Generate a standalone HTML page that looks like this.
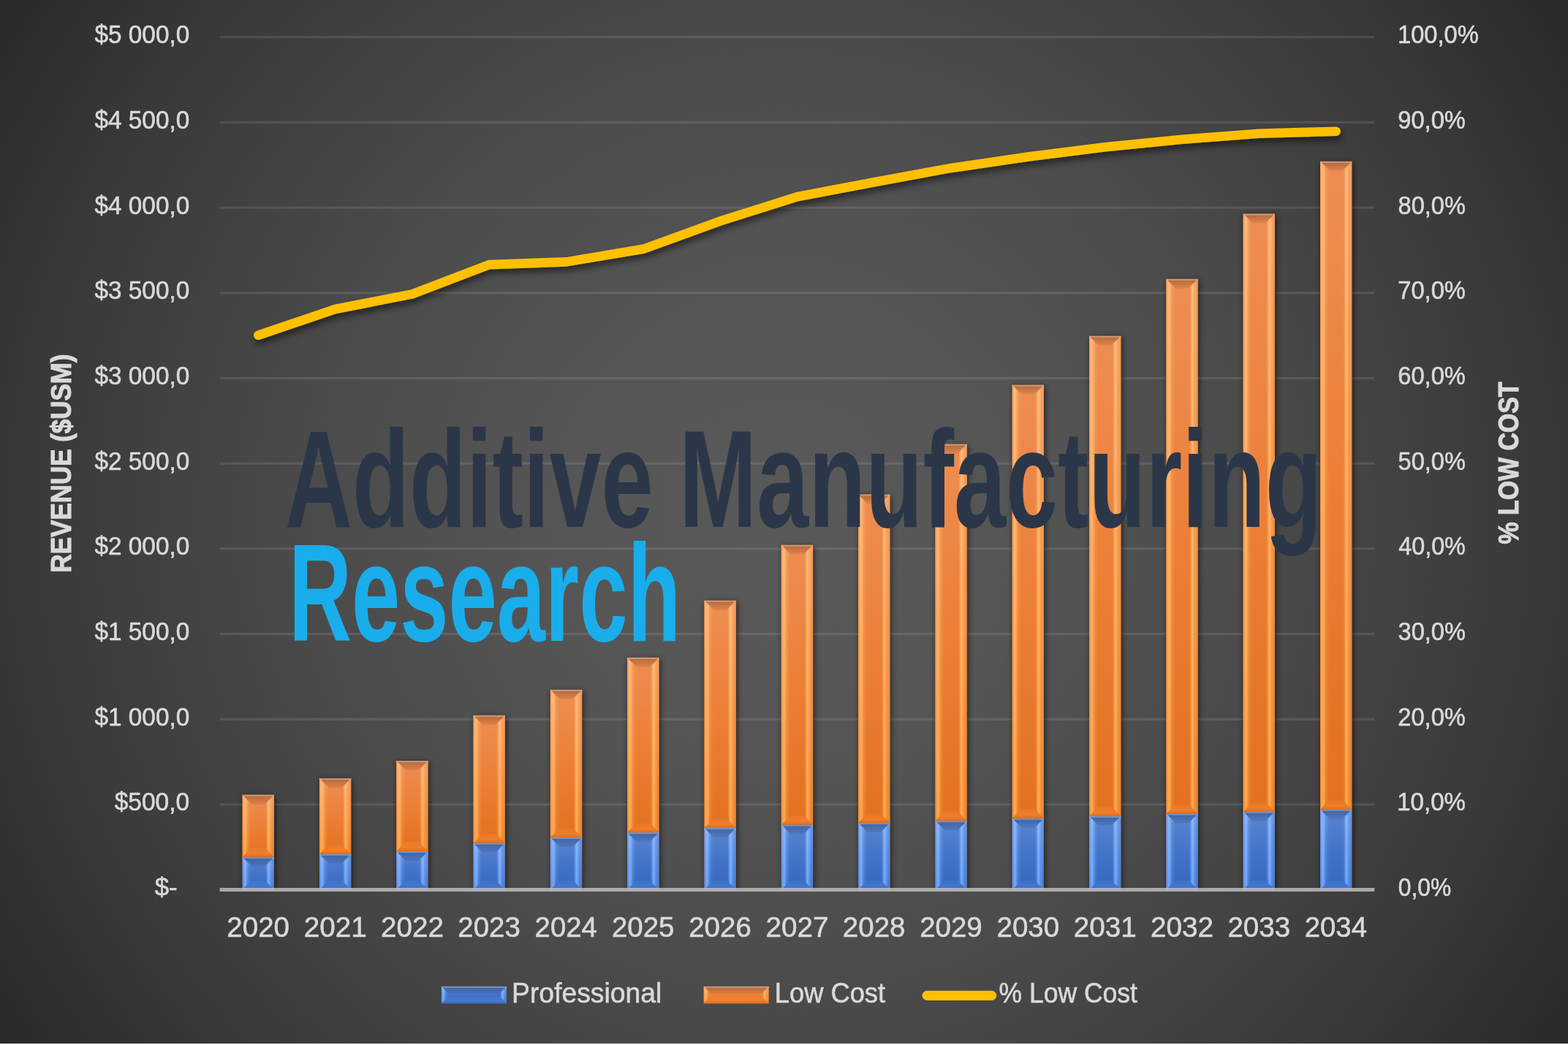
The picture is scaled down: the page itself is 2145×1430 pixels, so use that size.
<!DOCTYPE html>
<html><head><meta charset="utf-8"><title>Chart</title>
<style>html,body{margin:0;padding:0;background:#fff;}body{width:2145px;height:1430px;overflow:hidden;font-family:"Liberation Sans",sans-serif;}svg{display:block;}</style>
</head><body>
<svg width="2145" height="1430" viewBox="0 0 2145 1430" font-family="'Liberation Sans', sans-serif">
<defs>
<radialGradient id="bg" cx="1072.5" cy="714" r="1288" gradientUnits="userSpaceOnUse">
<stop offset="0.00" stop-color="#595959"/><stop offset="0.05" stop-color="#595959"/><stop offset="0.10" stop-color="#585858"/><stop offset="0.15" stop-color="#575757"/><stop offset="0.20" stop-color="#565656"/><stop offset="0.25" stop-color="#555555"/><stop offset="0.30" stop-color="#535353"/><stop offset="0.35" stop-color="#515151"/><stop offset="0.40" stop-color="#4f4f4f"/><stop offset="0.45" stop-color="#4d4d4d"/><stop offset="0.50" stop-color="#4b4b4b"/><stop offset="0.55" stop-color="#484848"/><stop offset="0.60" stop-color="#454545"/><stop offset="0.65" stop-color="#424242"/><stop offset="0.70" stop-color="#3f3f3f"/><stop offset="0.75" stop-color="#3c3c3c"/><stop offset="0.80" stop-color="#393939"/><stop offset="0.85" stop-color="#353535"/><stop offset="0.90" stop-color="#313131"/><stop offset="0.95" stop-color="#2d2d2d"/><stop offset="1.00" stop-color="#292929"/></radialGradient>
<linearGradient id="gO" x1="0" y1="0" x2="0" y2="1"><stop offset="0" stop-color="#ee8d53"/><stop offset="0.5" stop-color="#ec7f36"/><stop offset="1" stop-color="#e2711f"/></linearGradient>
<linearGradient id="gB" x1="0" y1="0" x2="0" y2="1"><stop offset="0" stop-color="#5a85d2"/><stop offset="0.5" stop-color="#4474c8"/><stop offset="1" stop-color="#3567bd"/></linearGradient>
<linearGradient id="bvLO" x1="0" y1="0" x2="1" y2="0"><stop offset="0" stop-color="#ff6a3a" stop-opacity="0.5"/><stop offset="0.3" stop-color="#ff6a3a" stop-opacity="1"/><stop offset="0.58" stop-color="#ff6a3a" stop-opacity="0.3"/><stop offset="0.85" stop-color="#ff6a3a" stop-opacity="0.04"/><stop offset="1" stop-color="#ff6a3a" stop-opacity="0"/></linearGradient>
<linearGradient id="bvRO" x1="0" y1="0" x2="1" y2="0"><stop offset="0" stop-color="#ff6a3a" stop-opacity="0"/><stop offset="0.15" stop-color="#ff6a3a" stop-opacity="0.05"/><stop offset="0.42" stop-color="#ff6a3a" stop-opacity="1"/><stop offset="0.72" stop-color="#ff6a3a" stop-opacity="0.45"/><stop offset="1" stop-color="#ff6a3a" stop-opacity="0.22"/></linearGradient>
<linearGradient id="bvBO" x1="0" y1="0" x2="0" y2="1"><stop offset="0" stop-color="#ff8f38" stop-opacity="0.15"/><stop offset="0.6" stop-color="#ff8a30" stop-opacity="0.5"/><stop offset="1" stop-color="#e26a18" stop-opacity="0.5"/></linearGradient>
<linearGradient id="bvLB" x1="0" y1="0" x2="1" y2="0"><stop offset="0" stop-color="#4e70ff" stop-opacity="0.5"/><stop offset="0.3" stop-color="#4e70ff" stop-opacity="1"/><stop offset="0.58" stop-color="#4e70ff" stop-opacity="0.3"/><stop offset="0.85" stop-color="#4e70ff" stop-opacity="0.04"/><stop offset="1" stop-color="#4e70ff" stop-opacity="0"/></linearGradient>
<linearGradient id="bvRB" x1="0" y1="0" x2="1" y2="0"><stop offset="0" stop-color="#4e70ff" stop-opacity="0"/><stop offset="0.15" stop-color="#4e70ff" stop-opacity="0.05"/><stop offset="0.42" stop-color="#4e70ff" stop-opacity="1"/><stop offset="0.72" stop-color="#4e70ff" stop-opacity="0.45"/><stop offset="1" stop-color="#4e70ff" stop-opacity="0.22"/></linearGradient>
<linearGradient id="bvBB" x1="0" y1="0" x2="0" y2="1"><stop offset="0" stop-color="#4d86dc" stop-opacity="0.15"/><stop offset="0.6" stop-color="#4a84dc" stop-opacity="0.55"/><stop offset="1" stop-color="#3b6fc8" stop-opacity="0.5"/></linearGradient>
<linearGradient id="bvT" x1="0" y1="0" x2="0" y2="1"><stop offset="0" stop-color="#000" stop-opacity="0.26"/><stop offset="1" stop-color="#000" stop-opacity="0.06"/></linearGradient>
<filter id="sh" filterUnits="userSpaceOnUse" x="0" y="0" width="2145" height="1430"><feDropShadow dx="1.5" dy="2" stdDeviation="4" flood-color="#000" flood-opacity="0.62"/></filter>
<filter id="shl" filterUnits="userSpaceOnUse" x="0" y="0" width="2145" height="1430"><feDropShadow dx="2" dy="6" stdDeviation="5" flood-color="#000" flood-opacity="0.5"/></filter>
</defs>
<rect x="0" y="0" width="2145" height="1430" fill="#fff"/>
<rect x="0" y="0" width="2145" height="1428" fill="url(#bg)"/>
<rect x="300.6" y="49.20" width="1579.7" height="3.2" fill="#f2f2f2" fill-opacity="0.11"/>
<rect x="300.6" y="165.87" width="1579.7" height="3.2" fill="#f2f2f2" fill-opacity="0.11"/>
<rect x="300.6" y="282.54" width="1579.7" height="3.2" fill="#f2f2f2" fill-opacity="0.11"/>
<rect x="300.6" y="399.21" width="1579.7" height="3.2" fill="#f2f2f2" fill-opacity="0.11"/>
<rect x="300.6" y="515.88" width="1579.7" height="3.2" fill="#f2f2f2" fill-opacity="0.11"/>
<rect x="300.6" y="632.55" width="1579.7" height="3.2" fill="#f2f2f2" fill-opacity="0.11"/>
<rect x="300.6" y="749.22" width="1579.7" height="3.2" fill="#f2f2f2" fill-opacity="0.11"/>
<rect x="300.6" y="865.89" width="1579.7" height="3.2" fill="#f2f2f2" fill-opacity="0.11"/>
<rect x="300.6" y="982.56" width="1579.7" height="3.2" fill="#f2f2f2" fill-opacity="0.11"/>
<rect x="300.6" y="1099.23" width="1579.7" height="3.2" fill="#f2f2f2" fill-opacity="0.11"/>
<clipPath id="cpa"><rect x="0" y="0" width="2145" height="1217.5"/></clipPath>
<g clip-path="url(#cpa)"><g filter="url(#sh)">
<rect x="331.66" y="1087.70" width="43.20" height="149.80" fill="#c66a2a"/>
<rect x="436.97" y="1065.00" width="43.20" height="172.50" fill="#c66a2a"/>
<rect x="542.28" y="1041.10" width="43.20" height="196.40" fill="#c66a2a"/>
<rect x="647.60" y="978.90" width="43.20" height="258.60" fill="#c66a2a"/>
<rect x="752.91" y="943.90" width="43.20" height="293.60" fill="#c66a2a"/>
<rect x="858.22" y="899.90" width="43.20" height="337.60" fill="#c66a2a"/>
<rect x="963.54" y="821.80" width="43.20" height="415.70" fill="#c66a2a"/>
<rect x="1068.85" y="745.80" width="43.20" height="491.70" fill="#c66a2a"/>
<rect x="1174.16" y="676.60" width="43.20" height="560.90" fill="#c66a2a"/>
<rect x="1279.48" y="607.80" width="43.20" height="629.70" fill="#c66a2a"/>
<rect x="1384.79" y="526.80" width="43.20" height="710.70" fill="#c66a2a"/>
<rect x="1490.10" y="459.80" width="43.20" height="777.70" fill="#c66a2a"/>
<rect x="1595.42" y="381.80" width="43.20" height="855.70" fill="#c66a2a"/>
<rect x="1700.73" y="292.60" width="43.20" height="944.90" fill="#c66a2a"/>
<rect x="1806.04" y="220.90" width="43.20" height="1016.60" fill="#c66a2a"/>
</g></g>
<rect x="331.66" y="1087.70" width="43.20" height="85.10" fill="url(#gO)"/>
<svg x="331.66" y="1087.70" width="43.20" height="85.10" viewBox="0 0 43.20 85.10" preserveAspectRatio="none" overflow="visible">
<polygon points="0,0 13.00,13.00 13.00,72.10 0,85.10" fill="url(#bvLO)" style="mix-blend-mode:screen"/>
<polygon points="43.20,0 30.20,13.00 30.20,72.10 43.20,85.10" fill="url(#bvRO)" style="mix-blend-mode:screen"/>
<polygon points="0,0 43.20,0 30.20,13.00 13.00,13.00" fill="url(#bvT)"/>
<polygon points="0,85.10 43.20,85.10 30.20,72.10 13.00,72.10" fill="url(#bvBO)"/>
<rect x="0" y="0" width="43.20" height="2" fill="#fff" fill-opacity="0.30"/>
</svg>
<rect x="331.66" y="1172.80" width="43.20" height="44.70" fill="url(#gB)"/>
<svg x="331.66" y="1172.80" width="43.20" height="44.70" viewBox="0 0 43.20 44.70" preserveAspectRatio="none" overflow="visible">
<polygon points="0,0 13.00,13.00 13.00,31.70 0,44.70" fill="url(#bvLB)" style="mix-blend-mode:screen"/>
<polygon points="43.20,0 30.20,13.00 30.20,31.70 43.20,44.70" fill="url(#bvRB)" style="mix-blend-mode:screen"/>
<polygon points="0,0 43.20,0 30.20,13.00 13.00,13.00" fill="url(#bvT)"/>
<polygon points="0,44.70 43.20,44.70 30.20,31.70 13.00,31.70" fill="url(#bvBB)"/>
<rect x="0" y="0" width="43.20" height="2" fill="#fff" fill-opacity="0.30"/>
</svg>
<rect x="436.97" y="1065.00" width="43.20" height="103.80" fill="url(#gO)"/>
<svg x="436.97" y="1065.00" width="43.20" height="103.80" viewBox="0 0 43.20 103.80" preserveAspectRatio="none" overflow="visible">
<polygon points="0,0 13.00,13.00 13.00,90.80 0,103.80" fill="url(#bvLO)" style="mix-blend-mode:screen"/>
<polygon points="43.20,0 30.20,13.00 30.20,90.80 43.20,103.80" fill="url(#bvRO)" style="mix-blend-mode:screen"/>
<polygon points="0,0 43.20,0 30.20,13.00 13.00,13.00" fill="url(#bvT)"/>
<polygon points="0,103.80 43.20,103.80 30.20,90.80 13.00,90.80" fill="url(#bvBO)"/>
<rect x="0" y="0" width="43.20" height="2" fill="#fff" fill-opacity="0.30"/>
</svg>
<rect x="436.97" y="1168.80" width="43.20" height="48.70" fill="url(#gB)"/>
<svg x="436.97" y="1168.80" width="43.20" height="48.70" viewBox="0 0 43.20 48.70" preserveAspectRatio="none" overflow="visible">
<polygon points="0,0 13.00,13.00 13.00,35.70 0,48.70" fill="url(#bvLB)" style="mix-blend-mode:screen"/>
<polygon points="43.20,0 30.20,13.00 30.20,35.70 43.20,48.70" fill="url(#bvRB)" style="mix-blend-mode:screen"/>
<polygon points="0,0 43.20,0 30.20,13.00 13.00,13.00" fill="url(#bvT)"/>
<polygon points="0,48.70 43.20,48.70 30.20,35.70 13.00,35.70" fill="url(#bvBB)"/>
<rect x="0" y="0" width="43.20" height="2" fill="#fff" fill-opacity="0.30"/>
</svg>
<rect x="542.28" y="1041.10" width="43.20" height="123.90" fill="url(#gO)"/>
<svg x="542.28" y="1041.10" width="43.20" height="123.90" viewBox="0 0 43.20 123.90" preserveAspectRatio="none" overflow="visible">
<polygon points="0,0 13.00,13.00 13.00,110.90 0,123.90" fill="url(#bvLO)" style="mix-blend-mode:screen"/>
<polygon points="43.20,0 30.20,13.00 30.20,110.90 43.20,123.90" fill="url(#bvRO)" style="mix-blend-mode:screen"/>
<polygon points="0,0 43.20,0 30.20,13.00 13.00,13.00" fill="url(#bvT)"/>
<polygon points="0,123.90 43.20,123.90 30.20,110.90 13.00,110.90" fill="url(#bvBO)"/>
<rect x="0" y="0" width="43.20" height="2" fill="#fff" fill-opacity="0.30"/>
</svg>
<rect x="542.28" y="1165.00" width="43.20" height="52.50" fill="url(#gB)"/>
<svg x="542.28" y="1165.00" width="43.20" height="52.50" viewBox="0 0 43.20 52.50" preserveAspectRatio="none" overflow="visible">
<polygon points="0,0 13.00,13.00 13.00,39.50 0,52.50" fill="url(#bvLB)" style="mix-blend-mode:screen"/>
<polygon points="43.20,0 30.20,13.00 30.20,39.50 43.20,52.50" fill="url(#bvRB)" style="mix-blend-mode:screen"/>
<polygon points="0,0 43.20,0 30.20,13.00 13.00,13.00" fill="url(#bvT)"/>
<polygon points="0,52.50 43.20,52.50 30.20,39.50 13.00,39.50" fill="url(#bvBB)"/>
<rect x="0" y="0" width="43.20" height="2" fill="#fff" fill-opacity="0.30"/>
</svg>
<rect x="647.60" y="978.90" width="43.20" height="174.80" fill="url(#gO)"/>
<svg x="647.60" y="978.90" width="43.20" height="174.80" viewBox="0 0 43.20 174.80" preserveAspectRatio="none" overflow="visible">
<polygon points="0,0 13.00,13.00 13.00,161.80 0,174.80" fill="url(#bvLO)" style="mix-blend-mode:screen"/>
<polygon points="43.20,0 30.20,13.00 30.20,161.80 43.20,174.80" fill="url(#bvRO)" style="mix-blend-mode:screen"/>
<polygon points="0,0 43.20,0 30.20,13.00 13.00,13.00" fill="url(#bvT)"/>
<polygon points="0,174.80 43.20,174.80 30.20,161.80 13.00,161.80" fill="url(#bvBO)"/>
<rect x="0" y="0" width="43.20" height="2" fill="#fff" fill-opacity="0.30"/>
</svg>
<rect x="647.60" y="1153.70" width="43.20" height="63.80" fill="url(#gB)"/>
<svg x="647.60" y="1153.70" width="43.20" height="63.80" viewBox="0 0 43.20 63.80" preserveAspectRatio="none" overflow="visible">
<polygon points="0,0 13.00,13.00 13.00,50.80 0,63.80" fill="url(#bvLB)" style="mix-blend-mode:screen"/>
<polygon points="43.20,0 30.20,13.00 30.20,50.80 43.20,63.80" fill="url(#bvRB)" style="mix-blend-mode:screen"/>
<polygon points="0,0 43.20,0 30.20,13.00 13.00,13.00" fill="url(#bvT)"/>
<polygon points="0,63.80 43.20,63.80 30.20,50.80 13.00,50.80" fill="url(#bvBB)"/>
<rect x="0" y="0" width="43.20" height="2" fill="#fff" fill-opacity="0.30"/>
</svg>
<rect x="752.91" y="943.90" width="43.20" height="202.00" fill="url(#gO)"/>
<svg x="752.91" y="943.90" width="43.20" height="202.00" viewBox="0 0 43.20 202.00" preserveAspectRatio="none" overflow="visible">
<polygon points="0,0 13.00,13.00 13.00,189.00 0,202.00" fill="url(#bvLO)" style="mix-blend-mode:screen"/>
<polygon points="43.20,0 30.20,13.00 30.20,189.00 43.20,202.00" fill="url(#bvRO)" style="mix-blend-mode:screen"/>
<polygon points="0,0 43.20,0 30.20,13.00 13.00,13.00" fill="url(#bvT)"/>
<polygon points="0,202.00 43.20,202.00 30.20,189.00 13.00,189.00" fill="url(#bvBO)"/>
<rect x="0" y="0" width="43.20" height="2" fill="#fff" fill-opacity="0.30"/>
</svg>
<rect x="752.91" y="1145.90" width="43.20" height="71.60" fill="url(#gB)"/>
<svg x="752.91" y="1145.90" width="43.20" height="71.60" viewBox="0 0 43.20 71.60" preserveAspectRatio="none" overflow="visible">
<polygon points="0,0 13.00,13.00 13.00,58.60 0,71.60" fill="url(#bvLB)" style="mix-blend-mode:screen"/>
<polygon points="43.20,0 30.20,13.00 30.20,58.60 43.20,71.60" fill="url(#bvRB)" style="mix-blend-mode:screen"/>
<polygon points="0,0 43.20,0 30.20,13.00 13.00,13.00" fill="url(#bvT)"/>
<polygon points="0,71.60 43.20,71.60 30.20,58.60 13.00,58.60" fill="url(#bvBB)"/>
<rect x="0" y="0" width="43.20" height="2" fill="#fff" fill-opacity="0.30"/>
</svg>
<rect x="858.22" y="899.90" width="43.20" height="239.30" fill="url(#gO)"/>
<svg x="858.22" y="899.90" width="43.20" height="239.30" viewBox="0 0 43.20 239.30" preserveAspectRatio="none" overflow="visible">
<polygon points="0,0 13.00,13.00 13.00,226.30 0,239.30" fill="url(#bvLO)" style="mix-blend-mode:screen"/>
<polygon points="43.20,0 30.20,13.00 30.20,226.30 43.20,239.30" fill="url(#bvRO)" style="mix-blend-mode:screen"/>
<polygon points="0,0 43.20,0 30.20,13.00 13.00,13.00" fill="url(#bvT)"/>
<polygon points="0,239.30 43.20,239.30 30.20,226.30 13.00,226.30" fill="url(#bvBO)"/>
<rect x="0" y="0" width="43.20" height="2" fill="#fff" fill-opacity="0.30"/>
</svg>
<rect x="858.22" y="1139.20" width="43.20" height="78.30" fill="url(#gB)"/>
<svg x="858.22" y="1139.20" width="43.20" height="78.30" viewBox="0 0 43.20 78.30" preserveAspectRatio="none" overflow="visible">
<polygon points="0,0 13.00,13.00 13.00,65.30 0,78.30" fill="url(#bvLB)" style="mix-blend-mode:screen"/>
<polygon points="43.20,0 30.20,13.00 30.20,65.30 43.20,78.30" fill="url(#bvRB)" style="mix-blend-mode:screen"/>
<polygon points="0,0 43.20,0 30.20,13.00 13.00,13.00" fill="url(#bvT)"/>
<polygon points="0,78.30 43.20,78.30 30.20,65.30 13.00,65.30" fill="url(#bvBB)"/>
<rect x="0" y="0" width="43.20" height="2" fill="#fff" fill-opacity="0.30"/>
</svg>
<rect x="963.54" y="821.80" width="43.20" height="311.10" fill="url(#gO)"/>
<svg x="963.54" y="821.80" width="43.20" height="311.10" viewBox="0 0 43.20 311.10" preserveAspectRatio="none" overflow="visible">
<polygon points="0,0 13.00,13.00 13.00,298.10 0,311.10" fill="url(#bvLO)" style="mix-blend-mode:screen"/>
<polygon points="43.20,0 30.20,13.00 30.20,298.10 43.20,311.10" fill="url(#bvRO)" style="mix-blend-mode:screen"/>
<polygon points="0,0 43.20,0 30.20,13.00 13.00,13.00" fill="url(#bvT)"/>
<polygon points="0,311.10 43.20,311.10 30.20,298.10 13.00,298.10" fill="url(#bvBO)"/>
<rect x="0" y="0" width="43.20" height="2" fill="#fff" fill-opacity="0.30"/>
</svg>
<rect x="963.54" y="1132.90" width="43.20" height="84.60" fill="url(#gB)"/>
<svg x="963.54" y="1132.90" width="43.20" height="84.60" viewBox="0 0 43.20 84.60" preserveAspectRatio="none" overflow="visible">
<polygon points="0,0 13.00,13.00 13.00,71.60 0,84.60" fill="url(#bvLB)" style="mix-blend-mode:screen"/>
<polygon points="43.20,0 30.20,13.00 30.20,71.60 43.20,84.60" fill="url(#bvRB)" style="mix-blend-mode:screen"/>
<polygon points="0,0 43.20,0 30.20,13.00 13.00,13.00" fill="url(#bvT)"/>
<polygon points="0,84.60 43.20,84.60 30.20,71.60 13.00,71.60" fill="url(#bvBB)"/>
<rect x="0" y="0" width="43.20" height="2" fill="#fff" fill-opacity="0.30"/>
</svg>
<rect x="1068.85" y="745.80" width="43.20" height="382.80" fill="url(#gO)"/>
<svg x="1068.85" y="745.80" width="43.20" height="382.80" viewBox="0 0 43.20 382.80" preserveAspectRatio="none" overflow="visible">
<polygon points="0,0 13.00,13.00 13.00,369.80 0,382.80" fill="url(#bvLO)" style="mix-blend-mode:screen"/>
<polygon points="43.20,0 30.20,13.00 30.20,369.80 43.20,382.80" fill="url(#bvRO)" style="mix-blend-mode:screen"/>
<polygon points="0,0 43.20,0 30.20,13.00 13.00,13.00" fill="url(#bvT)"/>
<polygon points="0,382.80 43.20,382.80 30.20,369.80 13.00,369.80" fill="url(#bvBO)"/>
<rect x="0" y="0" width="43.20" height="2" fill="#fff" fill-opacity="0.30"/>
</svg>
<rect x="1068.85" y="1128.60" width="43.20" height="88.90" fill="url(#gB)"/>
<svg x="1068.85" y="1128.60" width="43.20" height="88.90" viewBox="0 0 43.20 88.90" preserveAspectRatio="none" overflow="visible">
<polygon points="0,0 13.00,13.00 13.00,75.90 0,88.90" fill="url(#bvLB)" style="mix-blend-mode:screen"/>
<polygon points="43.20,0 30.20,13.00 30.20,75.90 43.20,88.90" fill="url(#bvRB)" style="mix-blend-mode:screen"/>
<polygon points="0,0 43.20,0 30.20,13.00 13.00,13.00" fill="url(#bvT)"/>
<polygon points="0,88.90 43.20,88.90 30.20,75.90 13.00,75.90" fill="url(#bvBB)"/>
<rect x="0" y="0" width="43.20" height="2" fill="#fff" fill-opacity="0.30"/>
</svg>
<rect x="1174.16" y="676.60" width="43.20" height="449.50" fill="url(#gO)"/>
<svg x="1174.16" y="676.60" width="43.20" height="449.50" viewBox="0 0 43.20 449.50" preserveAspectRatio="none" overflow="visible">
<polygon points="0,0 13.00,13.00 13.00,436.50 0,449.50" fill="url(#bvLO)" style="mix-blend-mode:screen"/>
<polygon points="43.20,0 30.20,13.00 30.20,436.50 43.20,449.50" fill="url(#bvRO)" style="mix-blend-mode:screen"/>
<polygon points="0,0 43.20,0 30.20,13.00 13.00,13.00" fill="url(#bvT)"/>
<polygon points="0,449.50 43.20,449.50 30.20,436.50 13.00,436.50" fill="url(#bvBO)"/>
<rect x="0" y="0" width="43.20" height="2" fill="#fff" fill-opacity="0.30"/>
</svg>
<rect x="1174.16" y="1126.10" width="43.20" height="91.40" fill="url(#gB)"/>
<svg x="1174.16" y="1126.10" width="43.20" height="91.40" viewBox="0 0 43.20 91.40" preserveAspectRatio="none" overflow="visible">
<polygon points="0,0 13.00,13.00 13.00,78.40 0,91.40" fill="url(#bvLB)" style="mix-blend-mode:screen"/>
<polygon points="43.20,0 30.20,13.00 30.20,78.40 43.20,91.40" fill="url(#bvRB)" style="mix-blend-mode:screen"/>
<polygon points="0,0 43.20,0 30.20,13.00 13.00,13.00" fill="url(#bvT)"/>
<polygon points="0,91.40 43.20,91.40 30.20,78.40 13.00,78.40" fill="url(#bvBB)"/>
<rect x="0" y="0" width="43.20" height="2" fill="#fff" fill-opacity="0.30"/>
</svg>
<rect x="1279.48" y="607.80" width="43.20" height="515.50" fill="url(#gO)"/>
<svg x="1279.48" y="607.80" width="43.20" height="515.50" viewBox="0 0 43.20 515.50" preserveAspectRatio="none" overflow="visible">
<polygon points="0,0 13.00,13.00 13.00,502.50 0,515.50" fill="url(#bvLO)" style="mix-blend-mode:screen"/>
<polygon points="43.20,0 30.20,13.00 30.20,502.50 43.20,515.50" fill="url(#bvRO)" style="mix-blend-mode:screen"/>
<polygon points="0,0 43.20,0 30.20,13.00 13.00,13.00" fill="url(#bvT)"/>
<polygon points="0,515.50 43.20,515.50 30.20,502.50 13.00,502.50" fill="url(#bvBO)"/>
<rect x="0" y="0" width="43.20" height="2" fill="#fff" fill-opacity="0.30"/>
</svg>
<rect x="1279.48" y="1123.30" width="43.20" height="94.20" fill="url(#gB)"/>
<svg x="1279.48" y="1123.30" width="43.20" height="94.20" viewBox="0 0 43.20 94.20" preserveAspectRatio="none" overflow="visible">
<polygon points="0,0 13.00,13.00 13.00,81.20 0,94.20" fill="url(#bvLB)" style="mix-blend-mode:screen"/>
<polygon points="43.20,0 30.20,13.00 30.20,81.20 43.20,94.20" fill="url(#bvRB)" style="mix-blend-mode:screen"/>
<polygon points="0,0 43.20,0 30.20,13.00 13.00,13.00" fill="url(#bvT)"/>
<polygon points="0,94.20 43.20,94.20 30.20,81.20 13.00,81.20" fill="url(#bvBB)"/>
<rect x="0" y="0" width="43.20" height="2" fill="#fff" fill-opacity="0.30"/>
</svg>
<rect x="1384.79" y="526.80" width="43.20" height="593.00" fill="url(#gO)"/>
<svg x="1384.79" y="526.80" width="43.20" height="593.00" viewBox="0 0 43.20 593.00" preserveAspectRatio="none" overflow="visible">
<polygon points="0,0 13.00,13.00 13.00,580.00 0,593.00" fill="url(#bvLO)" style="mix-blend-mode:screen"/>
<polygon points="43.20,0 30.20,13.00 30.20,580.00 43.20,593.00" fill="url(#bvRO)" style="mix-blend-mode:screen"/>
<polygon points="0,0 43.20,0 30.20,13.00 13.00,13.00" fill="url(#bvT)"/>
<polygon points="0,593.00 43.20,593.00 30.20,580.00 13.00,580.00" fill="url(#bvBO)"/>
<rect x="0" y="0" width="43.20" height="2" fill="#fff" fill-opacity="0.30"/>
</svg>
<rect x="1384.79" y="1119.80" width="43.20" height="97.70" fill="url(#gB)"/>
<svg x="1384.79" y="1119.80" width="43.20" height="97.70" viewBox="0 0 43.20 97.70" preserveAspectRatio="none" overflow="visible">
<polygon points="0,0 13.00,13.00 13.00,84.70 0,97.70" fill="url(#bvLB)" style="mix-blend-mode:screen"/>
<polygon points="43.20,0 30.20,13.00 30.20,84.70 43.20,97.70" fill="url(#bvRB)" style="mix-blend-mode:screen"/>
<polygon points="0,0 43.20,0 30.20,13.00 13.00,13.00" fill="url(#bvT)"/>
<polygon points="0,97.70 43.20,97.70 30.20,84.70 13.00,84.70" fill="url(#bvBB)"/>
<rect x="0" y="0" width="43.20" height="2" fill="#fff" fill-opacity="0.30"/>
</svg>
<rect x="1490.10" y="459.80" width="43.20" height="657.00" fill="url(#gO)"/>
<svg x="1490.10" y="459.80" width="43.20" height="657.00" viewBox="0 0 43.20 657.00" preserveAspectRatio="none" overflow="visible">
<polygon points="0,0 13.00,13.00 13.00,644.00 0,657.00" fill="url(#bvLO)" style="mix-blend-mode:screen"/>
<polygon points="43.20,0 30.20,13.00 30.20,644.00 43.20,657.00" fill="url(#bvRO)" style="mix-blend-mode:screen"/>
<polygon points="0,0 43.20,0 30.20,13.00 13.00,13.00" fill="url(#bvT)"/>
<polygon points="0,657.00 43.20,657.00 30.20,644.00 13.00,644.00" fill="url(#bvBO)"/>
<rect x="0" y="0" width="43.20" height="2" fill="#fff" fill-opacity="0.30"/>
</svg>
<rect x="1490.10" y="1116.80" width="43.20" height="100.70" fill="url(#gB)"/>
<svg x="1490.10" y="1116.80" width="43.20" height="100.70" viewBox="0 0 43.20 100.70" preserveAspectRatio="none" overflow="visible">
<polygon points="0,0 13.00,13.00 13.00,87.70 0,100.70" fill="url(#bvLB)" style="mix-blend-mode:screen"/>
<polygon points="43.20,0 30.20,13.00 30.20,87.70 43.20,100.70" fill="url(#bvRB)" style="mix-blend-mode:screen"/>
<polygon points="0,0 43.20,0 30.20,13.00 13.00,13.00" fill="url(#bvT)"/>
<polygon points="0,100.70 43.20,100.70 30.20,87.70 13.00,87.70" fill="url(#bvBB)"/>
<rect x="0" y="0" width="43.20" height="2" fill="#fff" fill-opacity="0.30"/>
</svg>
<rect x="1595.42" y="381.80" width="43.20" height="731.70" fill="url(#gO)"/>
<svg x="1595.42" y="381.80" width="43.20" height="731.70" viewBox="0 0 43.20 731.70" preserveAspectRatio="none" overflow="visible">
<polygon points="0,0 13.00,13.00 13.00,718.70 0,731.70" fill="url(#bvLO)" style="mix-blend-mode:screen"/>
<polygon points="43.20,0 30.20,13.00 30.20,718.70 43.20,731.70" fill="url(#bvRO)" style="mix-blend-mode:screen"/>
<polygon points="0,0 43.20,0 30.20,13.00 13.00,13.00" fill="url(#bvT)"/>
<polygon points="0,731.70 43.20,731.70 30.20,718.70 13.00,718.70" fill="url(#bvBO)"/>
<rect x="0" y="0" width="43.20" height="2" fill="#fff" fill-opacity="0.30"/>
</svg>
<rect x="1595.42" y="1113.50" width="43.20" height="104.00" fill="url(#gB)"/>
<svg x="1595.42" y="1113.50" width="43.20" height="104.00" viewBox="0 0 43.20 104.00" preserveAspectRatio="none" overflow="visible">
<polygon points="0,0 13.00,13.00 13.00,91.00 0,104.00" fill="url(#bvLB)" style="mix-blend-mode:screen"/>
<polygon points="43.20,0 30.20,13.00 30.20,91.00 43.20,104.00" fill="url(#bvRB)" style="mix-blend-mode:screen"/>
<polygon points="0,0 43.20,0 30.20,13.00 13.00,13.00" fill="url(#bvT)"/>
<polygon points="0,104.00 43.20,104.00 30.20,91.00 13.00,91.00" fill="url(#bvBB)"/>
<rect x="0" y="0" width="43.20" height="2" fill="#fff" fill-opacity="0.30"/>
</svg>
<rect x="1700.73" y="292.60" width="43.20" height="818.10" fill="url(#gO)"/>
<svg x="1700.73" y="292.60" width="43.20" height="818.10" viewBox="0 0 43.20 818.10" preserveAspectRatio="none" overflow="visible">
<polygon points="0,0 13.00,13.00 13.00,805.10 0,818.10" fill="url(#bvLO)" style="mix-blend-mode:screen"/>
<polygon points="43.20,0 30.20,13.00 30.20,805.10 43.20,818.10" fill="url(#bvRO)" style="mix-blend-mode:screen"/>
<polygon points="0,0 43.20,0 30.20,13.00 13.00,13.00" fill="url(#bvT)"/>
<polygon points="0,818.10 43.20,818.10 30.20,805.10 13.00,805.10" fill="url(#bvBO)"/>
<rect x="0" y="0" width="43.20" height="2" fill="#fff" fill-opacity="0.30"/>
</svg>
<rect x="1700.73" y="1110.70" width="43.20" height="106.80" fill="url(#gB)"/>
<svg x="1700.73" y="1110.70" width="43.20" height="106.80" viewBox="0 0 43.20 106.80" preserveAspectRatio="none" overflow="visible">
<polygon points="0,0 13.00,13.00 13.00,93.80 0,106.80" fill="url(#bvLB)" style="mix-blend-mode:screen"/>
<polygon points="43.20,0 30.20,13.00 30.20,93.80 43.20,106.80" fill="url(#bvRB)" style="mix-blend-mode:screen"/>
<polygon points="0,0 43.20,0 30.20,13.00 13.00,13.00" fill="url(#bvT)"/>
<polygon points="0,106.80 43.20,106.80 30.20,93.80 13.00,93.80" fill="url(#bvBB)"/>
<rect x="0" y="0" width="43.20" height="2" fill="#fff" fill-opacity="0.30"/>
</svg>
<rect x="1806.04" y="220.90" width="43.20" height="886.80" fill="url(#gO)"/>
<svg x="1806.04" y="220.90" width="43.20" height="886.80" viewBox="0 0 43.20 886.80" preserveAspectRatio="none" overflow="visible">
<polygon points="0,0 13.00,13.00 13.00,873.80 0,886.80" fill="url(#bvLO)" style="mix-blend-mode:screen"/>
<polygon points="43.20,0 30.20,13.00 30.20,873.80 43.20,886.80" fill="url(#bvRO)" style="mix-blend-mode:screen"/>
<polygon points="0,0 43.20,0 30.20,13.00 13.00,13.00" fill="url(#bvT)"/>
<polygon points="0,886.80 43.20,886.80 30.20,873.80 13.00,873.80" fill="url(#bvBO)"/>
<rect x="0" y="0" width="43.20" height="2" fill="#fff" fill-opacity="0.30"/>
</svg>
<rect x="1806.04" y="1107.70" width="43.20" height="109.80" fill="url(#gB)"/>
<svg x="1806.04" y="1107.70" width="43.20" height="109.80" viewBox="0 0 43.20 109.80" preserveAspectRatio="none" overflow="visible">
<polygon points="0,0 13.00,13.00 13.00,96.80 0,109.80" fill="url(#bvLB)" style="mix-blend-mode:screen"/>
<polygon points="43.20,0 30.20,13.00 30.20,96.80 43.20,109.80" fill="url(#bvRB)" style="mix-blend-mode:screen"/>
<polygon points="0,0 43.20,0 30.20,13.00 13.00,13.00" fill="url(#bvT)"/>
<polygon points="0,109.80 43.20,109.80 30.20,96.80 13.00,96.80" fill="url(#bvBB)"/>
<rect x="0" y="0" width="43.20" height="2" fill="#fff" fill-opacity="0.30"/>
</svg>
<rect x="300.6" y="1215" width="1579.7" height="5" fill="#c4c4c4" fill-opacity="0.8"/>
<polyline points="353.3,458.8 458.6,423.0 563.9,402.4 669.2,362.1 774.5,358.4 879.8,340.8 985.1,302.6 1090.4,269.2 1195.8,249.3 1301.1,229.9 1406.4,214.5 1511.7,201.3 1617.0,190.7 1722.3,182.7 1827.6,179.7" fill="none" stroke="#ffc000" stroke-width="12.6" stroke-linecap="round" stroke-linejoin="round" filter="url(#shl)"/>
<rect x="603.90" y="1349.80" width="89.10" height="23.50" fill="url(#gB)"/>
<svg x="603.90" y="1349.80" width="89.10" height="23.50" viewBox="0 0 89.10 23.50" preserveAspectRatio="none" overflow="visible">
<polygon points="0,0 10.00,10.00 10.00,13.50 0,23.50" fill="url(#bvLB)" style="mix-blend-mode:screen"/>
<polygon points="89.10,0 79.10,10.00 79.10,13.50 89.10,23.50" fill="url(#bvRB)" style="mix-blend-mode:screen"/>
<polygon points="0,0 89.10,0 79.10,10.00 10.00,10.00" fill="url(#bvT)"/>
<polygon points="0,23.50 89.10,23.50 79.10,13.50 10.00,13.50" fill="url(#bvBB)"/>
<rect x="0" y="0" width="89.10" height="2" fill="#fff" fill-opacity="0.30"/>
</svg>
<rect x="962.70" y="1349.80" width="89.00" height="23.50" fill="url(#gO)"/>
<svg x="962.70" y="1349.80" width="89.00" height="23.50" viewBox="0 0 89.00 23.50" preserveAspectRatio="none" overflow="visible">
<polygon points="0,0 10.00,10.00 10.00,13.50 0,23.50" fill="url(#bvLO)" style="mix-blend-mode:screen"/>
<polygon points="89.00,0 79.00,10.00 79.00,13.50 89.00,23.50" fill="url(#bvRO)" style="mix-blend-mode:screen"/>
<polygon points="0,0 89.00,0 79.00,10.00 10.00,10.00" fill="url(#bvT)"/>
<polygon points="0,23.50 89.00,23.50 79.00,13.50 10.00,13.50" fill="url(#bvBO)"/>
<rect x="0" y="0" width="89.00" height="2" fill="#fff" fill-opacity="0.30"/>
</svg>
<line x1="1268.2" y1="1362.3" x2="1356.6" y2="1362.3" stroke="#ffc000" stroke-width="13.2" stroke-linecap="round"/>
<text transform="translate(129.47,59.40) scale(0.9443,1)" font-size="35.30" font-weight="normal" fill="#d9d9d9" stroke="#d9d9d9" stroke-width="0.6">$5 000,0</text>
<text transform="translate(129.47,176.07) scale(0.9443,1)" font-size="35.30" font-weight="normal" fill="#d9d9d9" stroke="#d9d9d9" stroke-width="0.6">$4 500,0</text>
<text transform="translate(129.47,292.74) scale(0.9443,1)" font-size="35.30" font-weight="normal" fill="#d9d9d9" stroke="#d9d9d9" stroke-width="0.6">$4 000,0</text>
<text transform="translate(129.47,409.41) scale(0.9443,1)" font-size="35.30" font-weight="normal" fill="#d9d9d9" stroke="#d9d9d9" stroke-width="0.6">$3 500,0</text>
<text transform="translate(129.47,526.08) scale(0.9443,1)" font-size="35.30" font-weight="normal" fill="#d9d9d9" stroke="#d9d9d9" stroke-width="0.6">$3 000,0</text>
<text transform="translate(129.47,642.75) scale(0.9443,1)" font-size="35.30" font-weight="normal" fill="#d9d9d9" stroke="#d9d9d9" stroke-width="0.6">$2 500,0</text>
<text transform="translate(129.47,759.42) scale(0.9443,1)" font-size="35.30" font-weight="normal" fill="#d9d9d9" stroke="#d9d9d9" stroke-width="0.6">$2 000,0</text>
<text transform="translate(129.47,876.09) scale(0.9443,1)" font-size="35.30" font-weight="normal" fill="#d9d9d9" stroke="#d9d9d9" stroke-width="0.6">$1 500,0</text>
<text transform="translate(129.47,992.76) scale(0.9443,1)" font-size="35.30" font-weight="normal" fill="#d9d9d9" stroke="#d9d9d9" stroke-width="0.6">$1 000,0</text>
<text transform="translate(156.67,1109.43) scale(0.9487,1)" font-size="35.30" font-weight="normal" fill="#d9d9d9" stroke="#d9d9d9" stroke-width="0.6">$500,0</text>
<text transform="translate(211.65,1226.10) scale(0.9898,1)" font-size="35.30" font-weight="normal" fill="#d9d9d9" stroke="#d9d9d9" stroke-width="0.6">$-</text>
<text transform="translate(1911.99,59.40) scale(0.9250,1)" font-size="35.30" font-weight="normal" fill="#d9d9d9" stroke="#d9d9d9" stroke-width="0.6">100,0%</text>
<text transform="translate(1912.27,176.07) scale(0.9251,1)" font-size="35.30" font-weight="normal" fill="#d9d9d9" stroke="#d9d9d9" stroke-width="0.6">90,0%</text>
<text transform="translate(1912.60,292.74) scale(0.9217,1)" font-size="35.30" font-weight="normal" fill="#d9d9d9" stroke="#d9d9d9" stroke-width="0.6">80,0%</text>
<text transform="translate(1912.27,409.41) scale(0.9251,1)" font-size="35.30" font-weight="normal" fill="#d9d9d9" stroke="#d9d9d9" stroke-width="0.6">70,0%</text>
<text transform="translate(1912.27,526.08) scale(0.9251,1)" font-size="35.30" font-weight="normal" fill="#d9d9d9" stroke="#d9d9d9" stroke-width="0.6">60,0%</text>
<text transform="translate(1912.60,642.75) scale(0.9217,1)" font-size="35.30" font-weight="normal" fill="#d9d9d9" stroke="#d9d9d9" stroke-width="0.6">50,0%</text>
<text transform="translate(1913.25,759.42) scale(0.9151,1)" font-size="35.30" font-weight="normal" fill="#d9d9d9" stroke="#d9d9d9" stroke-width="0.6">40,0%</text>
<text transform="translate(1912.60,876.09) scale(0.9217,1)" font-size="35.30" font-weight="normal" fill="#d9d9d9" stroke="#d9d9d9" stroke-width="0.6">30,0%</text>
<text transform="translate(1912.27,992.76) scale(0.9251,1)" font-size="35.30" font-weight="normal" fill="#d9d9d9" stroke="#d9d9d9" stroke-width="0.6">20,0%</text>
<text transform="translate(1911.26,1109.43) scale(0.9353,1)" font-size="35.30" font-weight="normal" fill="#d9d9d9" stroke="#d9d9d9" stroke-width="0.6">10,0%</text>
<text transform="translate(1912.73,1226.10) scale(0.9014,1)" font-size="35.30" font-weight="normal" fill="#d9d9d9" stroke="#d9d9d9" stroke-width="0.6">0,0%</text>
<text transform="translate(310.33,1282.10) scale(0.9722,1)" font-size="39.60" font-weight="normal" fill="#d9d9d9" stroke="#d9d9d9" stroke-width="0.6">2020</text>
<text transform="translate(415.64,1282.10) scale(0.9767,1)" font-size="39.60" font-weight="normal" fill="#d9d9d9" stroke="#d9d9d9" stroke-width="0.6">2021</text>
<text transform="translate(520.95,1282.10) scale(0.9767,1)" font-size="39.60" font-weight="normal" fill="#d9d9d9" stroke="#d9d9d9" stroke-width="0.6">2022</text>
<text transform="translate(626.27,1282.10) scale(0.9722,1)" font-size="39.60" font-weight="normal" fill="#d9d9d9" stroke="#d9d9d9" stroke-width="0.6">2023</text>
<text transform="translate(731.59,1282.10) scale(0.9676,1)" font-size="39.60" font-weight="normal" fill="#d9d9d9" stroke="#d9d9d9" stroke-width="0.6">2024</text>
<text transform="translate(836.90,1282.10) scale(0.9722,1)" font-size="39.60" font-weight="normal" fill="#d9d9d9" stroke="#d9d9d9" stroke-width="0.6">2025</text>
<text transform="translate(942.21,1282.10) scale(0.9722,1)" font-size="39.60" font-weight="normal" fill="#d9d9d9" stroke="#d9d9d9" stroke-width="0.6">2026</text>
<text transform="translate(1047.52,1282.10) scale(0.9767,1)" font-size="39.60" font-weight="normal" fill="#d9d9d9" stroke="#d9d9d9" stroke-width="0.6">2027</text>
<text transform="translate(1152.84,1282.10) scale(0.9722,1)" font-size="39.60" font-weight="normal" fill="#d9d9d9" stroke="#d9d9d9" stroke-width="0.6">2028</text>
<text transform="translate(1258.15,1282.10) scale(0.9722,1)" font-size="39.60" font-weight="normal" fill="#d9d9d9" stroke="#d9d9d9" stroke-width="0.6">2029</text>
<text transform="translate(1363.47,1282.10) scale(0.9722,1)" font-size="39.60" font-weight="normal" fill="#d9d9d9" stroke="#d9d9d9" stroke-width="0.6">2030</text>
<text transform="translate(1468.77,1282.10) scale(0.9767,1)" font-size="39.60" font-weight="normal" fill="#d9d9d9" stroke="#d9d9d9" stroke-width="0.6">2031</text>
<text transform="translate(1574.08,1282.10) scale(0.9767,1)" font-size="39.60" font-weight="normal" fill="#d9d9d9" stroke="#d9d9d9" stroke-width="0.6">2032</text>
<text transform="translate(1679.41,1282.10) scale(0.9722,1)" font-size="39.60" font-weight="normal" fill="#d9d9d9" stroke="#d9d9d9" stroke-width="0.6">2033</text>
<text transform="translate(1784.73,1282.10) scale(0.9676,1)" font-size="39.60" font-weight="normal" fill="#d9d9d9" stroke="#d9d9d9" stroke-width="0.6">2034</text>
<text transform="translate(700.01,1371.90) scale(0.9742,1)" font-size="38.30" font-weight="normal" fill="#d9d9d9" stroke="#d9d9d9" stroke-width="0.6">Professional</text>
<text transform="translate(1059.80,1371.90) scale(0.9478,1)" font-size="38.30" font-weight="normal" fill="#d9d9d9" stroke="#d9d9d9" stroke-width="0.6">Low Cost</text>
<text transform="translate(1366.58,1371.90) scale(0.9264,1)" font-size="38.30" font-weight="normal" fill="#d9d9d9" stroke="#d9d9d9" stroke-width="0.6">% Low Cost</text>
<text transform="translate(96.8,781.0) rotate(-90) translate(-2.45,0) scale(0.8826,1)" font-size="39.60" font-weight="bold" fill="#d9d9d9" stroke="#d9d9d9" stroke-width="1.1">REVENUE ($USM)</text>
<text transform="translate(2077.4,743.4) rotate(-90) translate(-1.02,0) scale(0.8544,1)" font-size="39.60" font-weight="bold" fill="#d9d9d9" stroke="#d9d9d9" stroke-width="1.1">% LOW COST</text>
<text x="389.7" y="720.7" font-family="'Liberation Sans', sans-serif" font-size="190" font-weight="bold" fill="#2b3748" textLength="1419" lengthAdjust="spacingAndGlyphs">Additive Manufacturing</text>
<text x="395.1" y="877.4" font-family="'Liberation Sans', sans-serif" font-size="190" font-weight="bold" fill="#1aadeb" textLength="536" lengthAdjust="spacingAndGlyphs">Research</text>
</svg>
</body></html>
